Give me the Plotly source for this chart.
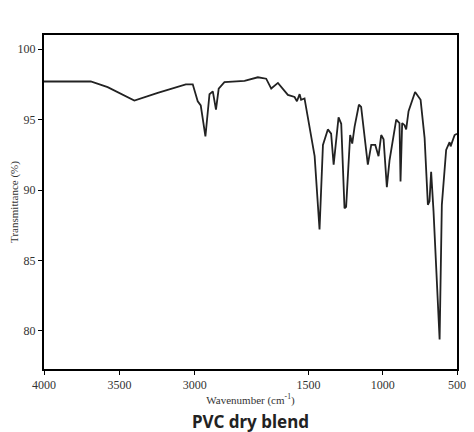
import numpy as np
import plotly.graph_objects as go

wavenumber = [4000, 3690, 3578, 3401, 3246, 3060, 3014, 2981, 2961, 2930, 2903, 2881, 2860, 2842, 2804,
              2735, 2358, 1840, 1784, 1750, 1705, 1638, 1593, 1577, 1559, 1549, 1526, 1458, 1425, 1402,
              1369, 1347, 1330, 1297, 1279, 1257, 1246, 1219, 1205, 1189, 1160, 1145, 1100, 1077, 1050,
              1028, 1010, 994, 972, 954, 909, 887, 880, 869, 853, 842, 826, 782, 745, 718, 696, 685,
              674, 658, 617, 602, 573, 550, 543, 516, 500]
transmittance = [97.7, 97.7, 97.3, 96.35, 96.9, 97.5, 97.5, 96.3, 96.0, 93.8, 96.8, 97.0, 95.7, 97.2, 97.65,
                 97.7, 97.75, 98.0, 97.9, 97.2, 97.6, 96.75, 96.6, 96.3, 96.8, 96.4, 96.5, 92.4, 87.2, 93.2,
                 94.3, 94.0, 91.8, 95.15, 94.7, 88.7, 88.8, 93.9, 93.3, 94.5, 96.05, 95.9, 91.8, 93.2, 93.2,
                 92.4, 93.9, 93.6, 90.2, 92.1, 95.0, 94.75, 90.6, 94.75, 94.6, 94.3, 95.6, 96.95, 96.4, 93.7, 88.95, 89.2,
                 91.3, 88.5, 79.4, 88.95, 92.85, 93.4, 93.1, 93.9, 94.0]
x_ticks = [4000, 3500, 3000, 1500, 1000, 500]
y_ticks = [80, 85, 90, 95, 100]

# broken wavenumber axis: compressed region between ~2735 and ~1840
knots_wn = [500, 1840, 2735, 4000]
knots_pos = [449.0, 250.0, 227.0, 36.3]
def pos(w):
    return np.interp(np.asarray(w, dtype=float), knots_wn, knots_pos)

fig = go.Figure(go.Scatter(x=pos(wavenumber), y=transmittance, mode="lines",
                           line=dict(color="#222222", width=1.8), showlegend=False))
axis_font = dict(family="Liberation Serif", size=12, color="#333")
fig.update_layout(
    width=474, height=432, plot_bgcolor="white", paper_bgcolor="white",
    margin=dict(l=36, r=25, t=27, b=71),
    xaxis=dict(range=[36.3, 449.0], tickvals=list(pos(x_ticks)), ticktext=[str(t) for t in x_ticks],
               showgrid=False, zeroline=False, showline=True, linecolor="black", linewidth=2, mirror=True,
               ticks="outside", ticklen=4, tickcolor="black", tickfont=axis_font,
               title=dict(text="Wavenumber (cm<sup>-1</sup>)", font=dict(family="Liberation Serif", size=11, color="#333"), standoff=4)),
    yaxis=dict(range=[77.3, 101.0], tickvals=y_ticks, showgrid=False, zeroline=False, showline=True,
               linecolor="black", linewidth=2, mirror=True, ticks="outside", ticklen=4, tickcolor="black",
               tickfont=axis_font, automargin=False,
               title=dict(text="Transmittance (%)", font=dict(family="Liberation Serif", size=11, color="#333"), standoff=2)),
    annotations=[dict(text="<b>PVC dry blend</b>", xref="paper", yref="paper", x=0.5, y=-0.156,
                      xanchor="center", yanchor="middle", showarrow=False,
                      font=dict(family="Noto Sans", size=17, color="#222"))],
)
fig.write_html("out.html")
